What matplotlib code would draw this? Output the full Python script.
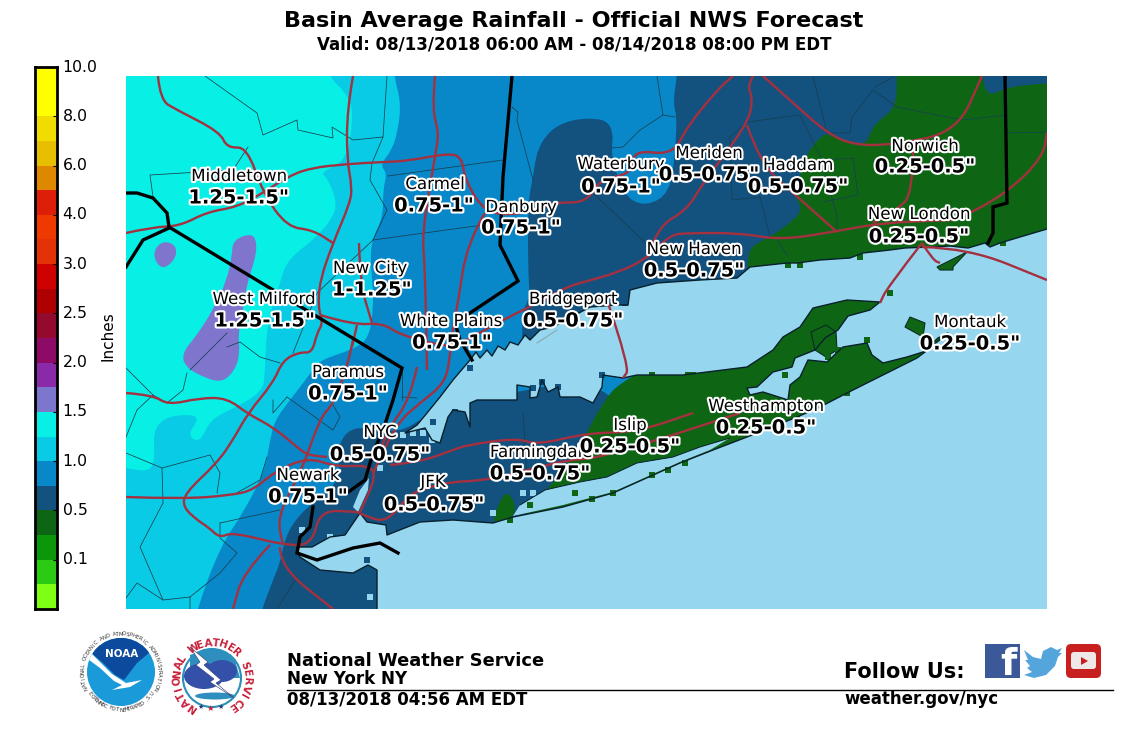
import matplotlib
matplotlib.use("Agg")
import matplotlib.pyplot as plt
import matplotlib.patheffects as pe
from matplotlib.colors import ListedColormap
from matplotlib.patches import Circle, Ellipse, FancyBboxPatch, PathPatch, Polygon, Rectangle
from matplotlib.path import Path
from matplotlib.transforms import ScaledTranslation
import numpy as np

color_water = "#96D7EF"
color_cyan = "#08EFE6"
color_light = "#09CBE6"
color_medium = "#0888C8"
color_dark = "#13517F"
color_green = "#0E6614"
color_purple = "#7F75CC"
color_road = "#A5303F"
color_county = "#17404F"

bar_colors = ["#7FFF14", "#2CC915", "#0C960A", "#0E6614", "#13517F", "#0888C8", "#0ACBE6", "#08EFE6",
	"#7C76CC", "#8A2AA8", "#8D0A67", "#930A2E", "#AE0000", "#CF0000", "#E33206", "#EE3A00", "#DD1F0A",
	"#DE8700", "#E8BE00", "#F0DC00", "#FFFF00", "#FFFF00"]
bar_ticks = [2, 4, 6, 8, 10, 12, 14, 16, 18, 20, 22]
bar_labels = ["0.1", "0.5", "1.0", "1.5", "2.0", "2.5", "3.0", "4.0", "6.0", "8.0", "10.0"]

cities = ["Middletown", "Carmel", "Danbury", "Waterbury", "Meriden", "Haddam", "Norwich", "New London",
	"New City", "New Haven", "West Milford", "Bridgeport", "White Plains", "Montauk", "Paramus",
	"Westhampton", "Islip", "NYC", "Farmingdale", "Newark", "JFK"]
city_x = [239, 435, 521, 621, 709, 798, 925, 919, 370, 694, 264, 573, 451, 970, 348, 766, 630, 380, 541, 308, 433]
city_y = [176, 184, 207, 164, 153, 165, 146, 214, 268, 249, 299, 299, 321, 322, 372, 406, 425, 432, 452, 475, 482]
amounts = ['1.25-1.5"', '0.75-1"', '0.75-1"', '0.75-1"', '0.5-0.75"', '0.5-0.75"', '0.25-0.5"', '0.25-0.5"',
	'1-1.25"', '0.5-0.75"', '1.25-1.5"', '0.5-0.75"', '0.75-1"', '0.25-0.5"', '0.75-1"',
	'0.25-0.5"', '0.25-0.5"', '0.5-0.75"', '0.5-0.75"', '0.75-1"', '0.5-0.75"']
amount_x = [239, 434, 521, 621, 709, 798, 925, 919, 372, 694, 265, 573, 452, 970, 348, 766, 630, 380, 540, 308, 434]
amount_y = [198, 206, 228, 187, 175, 187, 167, 237, 290, 271, 321, 321, 343, 344, 394, 428, 447, 455, 474, 497, 505]

# points past the map edge get clipped, they only carry the outline round the corners
area_light = [(328,60),(328,76),(350,97),(353,120),(347,160),(320,173),(327,177),(337,202),(333,217),(317,237),(287,260),
	(280,283),(267,323),(265,370),(263,392),(230,410),(210,420),(200,443),(187,435),(200,418),(187,414),(163,418),
	(153,433),(155,457),(150,472),(126,468),(100,465),(100,640),(101,640),(1100,640),(1100,639),(1100,50),(1099,50)]
area_medium = [(394,60),(394,76),(401,103),(398,130),(392,150),(380,165),(387,173),(383,190),(383,217),(373,237),(370,257),
	(373,287),(373,310),(370,333),(360,347),(320,360),(313,370),(290,400),(275,420),(270,440),(265,470),(245,510),
	(220,547),(197,609),(190,640),(1100,640),(1100,639),(1100,50),(1099,50)]
area_dark_north = [(677,60),(677,76),(673,103),(677,117),(675,153),(670,193),(645,207),(623,195),(612,157),(612,147),(613,133),
	(608,122),(595,118),(570,120),(550,130),(537,150),(533,177),(528,203),(528,270),(530,297),(523,310),(522,333),(522,380),
	(1100,320),(1100,50),(1099,50)]
area_dark_south = [(258,625),(262,609),(273,580),(280,563),(283,547),(290,527),(307,507),(333,487),(340,473),(337,450),(347,430),
	(367,427),(400,433),(427,415),(470,400),(640,370),(660,640)]
area_green_north = [(897,60),(897,76),(896,107),(880,120),(872,128),(867,143),(853,145),(828,133),(820,137),(807,153),(800,177),
	(793,193),(803,210),(790,223),(773,235),(750,247),(748,260),(745,300),(1100,320),(1100,81),(1047,83),(1007,87),(988,97),(982,76),(980,60)]
area_green_island = [(622,378),(600,407),(587,433),(570,460),(550,487),(520,515),(520,570),(1060,570),(1060,280),(820,280)]
area_green_patch = [(507,490),(516,505),(513,518),(497,524),(493,520),(498,505)]
area_purple_west = [(153,257),(157,245),(167,241),(177,247),(175,260),(162,270)]
area_purple_east = [(233,240),(252,233),(257,243),(255,260),(247,283),(243,310),(238,333),(240,353),(235,370),(223,382),
	(207,379),(185,367),(182,353),(197,335),(213,310),(227,280),(232,255)]

coast = [(1047,229),(1020,237),(1000,243),(990,247),(985,243),(968,248),(950,246),(930,247),(905,248),(890,250),(863,253),
	(850,258),(820,260),(797,263),(787,263),(750,267),(737,278),(700,280),(657,283),(630,290),(628,305),(617,305),(590,307),
	(553,327),(540,330),(530,340),(525,335),(518,345),(510,342),(505,350),(498,346),(492,356),(487,350),(480,358),(476,352),
	(470,360),(453,380),(440,397),(427,413),(417,425),(405,433),(425,428),(432,440),(440,443),
	(448,417),(453,410),(465,412),(470,427),(470,403),(477,400),(500,400),(517,400),(517,385),(530,387),(530,398),(537,397),
	(542,380),(548,392),(558,387),(560,397),(580,397),(593,403),(602,387),
	(603,375),(623,378),(637,375),(683,375),(747,367),(773,350),(783,337),(800,327),(813,308),(847,300),
	(880,302),(870,310),(848,316),(838,330),(825,338),(815,350),(795,358),(792,367),(773,372),(757,387),(747,388),(750,395),
	(763,392),(788,400),(790,385),(800,377),(808,360),(827,362),(843,347),(867,343),(872,355),(883,363),(907,357),(923,352),
	(938,338),(948,333),(925,352),(917,358),(847,393),(820,407),(797,417),(747,437),(713,450),(680,463),(613,493),(563,507),
	(513,517),(493,523),(453,520),(420,522),(387,535),(386,525),(367,522),(360,513),(345,535),(330,537),(312,547),(297,547),
	(300,557),(320,570),(353,573),(368,565),(377,570),(377,609)]
bay_south = [(520,505),(545,490),(580,482),(607,477),(637,463),(673,457),(700,447),(730,438),(710,450),(680,462),(613,492),
	(563,505),(513,516)]
bay_upper = [(360,490),(353,507),(358,512),(368,490),(369,478)]
isle_fishers = [(937,267),(967,252),(953,267),(953,270),(940,270)]
isle_gardiners = [(905,327),(910,317),(925,323),(923,337)]
isle_shelter = [(811,332),(826,325),(836,332),(837,350),(826,357),(815,350)]
shoal_line = [(537,343),(557,330)]

block_green = [(652,375),(688,375),(693,375),(685,463),(652,475),(668,470),(613,493),(592,499),(575,493),(785,375),(867,340),
	(828,357),(838,350),(797,415),(847,393),(888,368),(873,375),(788,265),(800,265),(860,257),(890,293),(920,230),(1003,243),
	(510,520),(530,505)]
block_dark = [(602,375),(558,387),(542,382),(533,388),(433,422),(455,412),(470,368),(367,560),(625,303)]
block_water = [(403,435),(413,433),(423,433),(432,440),(380,468),(302,530),(330,537),(328,542),(370,597),
	(523,493),(533,493),(493,513)]

roads = [
	[(158,76),(160,100),(177,110),(220,132),(227,148),(247,147),(263,193),(287,227),(313,230),(333,243)],
	[(126,233),(153,227),(180,226),(207,212),(237,207),(263,193),(287,177),(310,168),(347,164),(383,162),(407,161),(450,153),
		(462,158),(465,180),(485,213),(520,215),(557,202),(577,203),(590,197),(600,180),(633,173),(633,150),(673,155),(687,127),
		(717,90),(733,76)],
	[(353,76),(347,110),(347,160),(352,187),(350,203),(333,243),(320,280),(318,307),(323,323),(317,333),(312,353),(300,352),
		(283,360),(273,383),(248,413),(233,440),(217,463),(185,493),(183,507),(197,520),(208,527),(220,538),(232,532),(283,545),
		(312,545),(320,510),(357,512)],
	[(435,76),(432,110),(439,132),(435,157),(422,233),(425,267),(427,370)],
	[(485,213),(467,243),(458,303),(453,327),(450,357),(445,383),(420,403),(397,423),(373,473)],
	[(320,315),(353,325),(383,323),(400,335),(450,348),(467,340),(503,320),(523,310),(543,300),(567,287),(580,283),(620,272),
		(647,258),(670,235),(687,233),(740,233),(780,240),(833,232),(880,223),(947,220),(957,220),(1007,193),(1043,157),(1047,132)],
	[(647,258),(657,227),(687,210),(703,183),(747,125),(753,100),(748,87),(753,76)],
	[(763,76),(793,103),(827,133),(853,145),(892,145),(957,132),(982,76)],
	[(747,125),(760,163),(793,193),(837,232)],
	[(913,147),(913,193),(897,210),(873,223)],
	[(922,243),(887,288),(880,303)],
	[(922,243),(933,260),(940,263)],
	[(922,247),(968,248),(1047,280)],
	[(608,303),(630,368),(623,378)],
	[(390,465),(420,462),(453,450),(467,445),(517,438),(537,445),(587,433),(637,432),(693,413)],
	[(357,512),(367,517),(387,522),(407,497),(420,490),(448,482),(490,480),(547,465),(570,460),(597,458),(667,437),(740,413)],
	[(126,497),(183,499),(233,495),(253,490),(273,473),(307,457),(337,467),(367,465),(377,475),(360,512)],
	[(126,393),(153,395),(168,405),(200,398),(227,398),(248,414),(273,427),(297,447),(307,455),(327,457)],
	[(307,455),(320,417),(333,405),(347,367),(353,340)],
	[(357,325),(352,347)],
	[(280,547),(280,567),(333,609)],
	[(270,545),(243,573),(233,609)],
	[(307,455),(300,473),(277,517),(283,545)],
	[(359,243),(360,283),(372,323)],
	[(417,367),(410,400),(387,430),(377,463)],
]
state_lines = [
	[(126,193),(137,193),(153,198),(167,213),(169,227),(402,368),(393,400),(383,430),(373,453),(365,480),(347,493)],
	[(313,507),(310,527),(300,537),(297,553),(317,560),(353,548),(380,543),(398,553)],
	[(126,267),(143,240),(169,228)],
	[(512,76),(503,177),(500,245),(518,281),(455,323),(460,340),(472,360)],
	[(1005,76),(1007,203),(993,207),(993,233),(988,243)],
]
county_lines = [
	[(205,76),(257,113),(263,135),(297,120),(298,130),(333,138),(332,127),(353,140),(383,137),(372,163),(370,180),(387,210),(373,240)],
	[(248,147),(233,170),(150,175),(153,197)],
	[(387,76),(383,137)],
	[(388,176),(503,160)],
	[(373,240),(483,225)],
	[(373,240),(317,293),(293,353)],
	[(227,333),(190,370)],
	[(227,347),(240,342),(260,357),(280,363)],
	[(512,107),(518,112),(517,120),(533,180)],
	[(126,368),(153,395),(167,403),(183,390),(187,373)],
	[(126,437),(137,410),(153,395)],
	[(126,453),(162,468),(210,455),(220,473),(217,493)],
	[(162,468),(163,503),(140,547),(163,600),(190,597),(190,610)],
	[(126,598),(137,583),(163,600)],
	[(220,523),(220,538),(237,553),(220,573),(190,597)],
	[(220,523),(280,510)],
	[(267,457),(260,480),(233,495)],
	[(287,397),(333,430),(340,417),(333,405)],
	[(273,400),(273,413),(287,397)],
	[(402,370),(402,400)],
	[(402,397),(417,398)],
	[(523,413),(527,473)],
	[(297,577),(277,609)],
	[(657,76),(663,115),(675,117)],
	[(663,115),(640,130),(623,147),(612,148)],
	[(593,193),(650,247)],
	[(730,137),(747,122),(800,115),(822,160),(837,217),(837,230)],
	[(730,137),(732,200),(760,197),(770,237)],
	[(822,160),(853,158),(858,195),(823,202)],
	[(813,76),(827,133)],
	[(897,107),(873,90),(852,117),(850,133),(830,133)],
	[(897,107),(962,120),(1007,115)],
	[(1007,133),(1047,132)],
	[(875,87),(895,76)],
	[(777,240),(787,255)],
]

noaa_top = "NATIONAL OCEANIC AND ATMOSPHERIC ADMINISTRATION"
noaa_bottom = "U.S. DEPARTMENT OF COMMERCE"
nws_ring = "NATIONAL WEATHER SERVICE"

fig = plt.figure(figsize=(11.47, 7.35), dpi=100)
W, H = 1147.0, 735.0


def box(x0, y0, x1, y1):
	return [x0 / W, 1 - y1 / H, (x1 - x0) / W, (y1 - y0) / H]


# quadratic curve through the midpoints, rounds the corners off without new values
def smooth(points, closed):
	p = [np.array(q, dtype=float) for q in points]
	n = len(p)
	if closed:
		verts = [(p[-1] + p[0]) / 2]
		codes = [Path.MOVETO]
		for i in range(n):
			verts += [p[i], (p[i] + p[(i + 1) % n]) / 2]
			codes += [Path.CURVE3, Path.CURVE3]
	else:
		verts = [p[0]]
		codes = [Path.MOVETO]
		for i in range(1, n - 1):
			verts += [p[i], (p[i] + p[i + 1]) / 2]
			codes += [Path.CURVE3, Path.CURVE3]
		verts.append(p[-1])
		codes.append(Path.LINETO)
	return Path(verts, codes)


# full page layer in pixel coordinates
page = fig.add_axes([0, 0, 1, 1])
page.set_xlim(0, W)
page.set_ylim(H, 0)
page.axis("off")

ax = fig.add_axes(box(126, 76, 1047, 609))
ax.set_xlim(126, 1047)
ax.set_ylim(609, 76)
ax.axis("off")
ax.add_patch(Rectangle((126, 76), 921, 533, fc=color_cyan, ec="none", zorder=1))


def area(points, color, z):
	ax.add_patch(PathPatch(smooth(points, True), fc=color, ec="none", zorder=z))


def line(points, color, width, z):
	ax.add_patch(PathPatch(smooth(points, False), fc="none", ec=color, lw=width, zorder=z))


area(area_light, color_light, 2)
area(area_medium, color_medium, 3)
area(area_dark_north, color_dark, 4)
area(area_dark_south, color_dark, 4)
area(area_green_north, color_green, 5)
area(area_green_island, color_green, 5)
area(area_green_patch, color_green, 5)
area(area_purple_west, color_purple, 3)
area(area_purple_east, color_purple, 3)
ax.add_patch(Polygon(coast + [(1047, 609)], closed=True, fc=color_water, ec="none", zorder=6))
for piece in [bay_south, bay_upper]:
	ax.add_patch(Polygon(piece, closed=True, fc=color_water, ec="none", zorder=6))
for isle in [isle_fishers, isle_gardiners, isle_shelter]:
	ax.add_patch(Polygon(isle, closed=True, fc=color_green, ec="#0b2b20", lw=0.8, zorder=7))

for bx, by in block_green:
	ax.add_patch(Rectangle((bx - 3, by - 3), 6, 6, fc=color_green, ec="none", zorder=7))
for bx, by in block_dark:
	ax.add_patch(Rectangle((bx - 3, by - 3), 6, 6, fc=color_dark, ec="none", zorder=7))
for bx, by in block_water:
	ax.add_patch(Rectangle((bx - 3, by - 3), 6, 6, fc=color_water, ec="none", zorder=7))

ax.plot(*zip(*coast), color="#08202c", lw=1.0, zorder=9)
ax.plot(*zip(*bay_south[:8]), color="#08202c", lw=0.7, zorder=9)
ax.plot(*zip(*shoal_line), color="#8aa0a8", lw=0.7, zorder=9)
for item in county_lines:
	ax.plot(*zip(*item), color=color_county, lw=0.55, zorder=8)
for item in roads:
	line(item, color_road, 1.7, 10)
for item in state_lines:
	ax.plot(*zip(*item), color="black", lw=2.4, zorder=11, solid_joinstyle="miter")

outline = [pe.withStroke(linewidth=3, foreground="white")]
for name, nx, ny in zip(cities, city_x, city_y):
	ax.text(nx, ny, name, fontsize=12, ha="center", va="center", color="black", path_effects=outline, zorder=20)
for value, vx, vy in zip(amounts, amount_x, amount_y):
	ax.text(vx, vy, value, fontsize=14, fontweight="bold", ha="center", va="center", color="black",
		path_effects=outline, zorder=21)

# colour scale
cax = fig.add_axes(box(35, 67, 57, 609))
cmap = ListedColormap(bar_colors)
levels = np.arange(0, len(bar_colors) + 1)
cax.pcolormesh([0, 1], levels, np.arange(len(bar_colors)).reshape(-1, 1), cmap=cmap)
cax.set_xticks([])
cax.yaxis.tick_right()
cax.set_yticks(bar_ticks)
cax.set_yticklabels(bar_labels, fontsize=11.3)
cax.tick_params(axis="y", direction="in", length=3, width=0.8, pad=4)
for lab in cax.get_yticklabels():
	lab.set_transform(lab.get_transform() + ScaledTranslation(0, 1.5 / 100, fig.dpi_scale_trans))
for spine in cax.spines.values():
	spine.set_linewidth(2)
page.text(108, 336, "Inches", fontsize=11, rotation=90, ha="center", va="center")

page.text(574, 21, "Basin Average Rainfall - Official NWS Forecast", fontsize=16, fontweight="bold", ha="center", va="center")
page.text(574, 44, "Valid: 08/13/2018 06:00 AM - 08/14/2018 08:00 PM EDT", fontsize=12, fontweight="bold", ha="center", va="center")

page.text(287, 661, "National Weather Service", fontsize=12.9, fontweight="bold", va="center")
page.text(287, 679, "New York NY", fontsize=12.1, fontweight="bold", va="center")
page.text(287, 700, "08/13/2018 04:56 AM EDT", fontsize=12, fontweight="bold", va="center")
page.text(844, 672, "Follow Us:", fontsize=15, fontweight="bold", va="center")
page.text(844, 699, "weather.gov/nyc", fontsize=12, fontweight="bold", va="center")
page.plot([287, 1113], [690, 690], color="black", lw=1)


def ring_text(text, cx, cy, r, start, end, flip, **kw):
	for ch, ang in zip(text, np.linspace(start, end, len(text))):
		a = np.radians(ang)
		rot = 180 - ang if flip else -ang
		page.text(cx + r * np.sin(a), cy - r * np.cos(a), ch, rotation=rot, rotation_mode="anchor",
			ha="center", va="center", **kw)


# NOAA logo
noaa_disc = Circle((121, 672), 34, fc="#1A9AD8", ec="none")
page.add_patch(noaa_disc)
navy = Polygon([(80, 645), (80, 635), (162, 635), (162, 648), (149, 653), (137, 663), (124, 680), (115, 675), (102, 662), (90, 652)],
	fc="#0B4A9C", ec="none")
page.add_patch(navy)
navy.set_clip_path(noaa_disc)
swoosh = Polygon([(85, 657), (100, 668), (114, 681), (122, 685), (112, 690), (130, 687), (142, 680), (126, 683), (112, 674),
	(98, 660), (88, 650)], fc="white", ec="none")
page.add_patch(swoosh)
swoosh.set_clip_path(noaa_disc)
page.text(122, 654, "NOAA", fontsize=7.5, fontweight="bold", color="white", ha="center", va="center")
ring_text(noaa_top, 121, 672, 38, -115, 115, False, fontsize=3.8, color="#333333")
ring_text(noaa_bottom, 121, 672, 38, 125, 235, True, fontsize=3.8, color="#333333")

# NWS logo
page.add_patch(Circle((212, 678), 29, fc="white", ec="#2B8FB8", lw=1.5))
page.add_patch(Polygon([(190, 655), (205, 649), (222, 650), (235, 660), (240, 678), (190, 678)], fc="#2E8FBF", ec="none"))
page.add_patch(Ellipse((204, 676), 40, 26, fc="#3550A8", ec="none"))
page.add_patch(Ellipse((222, 671), 30, 22, fc="#3550A8", ec="none"))
page.add_patch(Ellipse((215, 696), 40, 7, fc="#2E8FBF", ec="none"))
page.add_patch(Polygon([(190, 647), (208, 662), (204, 665), (221, 680), (216, 683), (234, 698), (210, 682), (214, 679), (196, 665),
	(200, 662)], fc="white", ec="#25356f", lw=0.4))
ring_text(nws_ring, 212, 678, 35, -145, 145, False, fontsize=7.5, fontweight="bold", color="#C8203A")
page.text(201, 707, "\u2605", fontsize=5, color="#25356f", ha="center", va="center")
page.text(210, 708, "\u2605", fontsize=6, color="#C8203A", ha="center", va="center")
page.text(221, 707, "\u2605", fontsize=5, color="#25356f", ha="center", va="center")

# social icons
page.add_patch(Rectangle((985, 644), 35, 34, fc="#3B5998", ec="none"))
page.text(1008, 665, "f", fontsize=27, fontweight="bold", color="white", ha="center", va="center", clip_on=True)
page.add_patch(Polygon([(1024, 650), (1033, 657), (1041, 659), (1043, 651), (1051, 647), (1057, 650), (1062, 648), (1059, 653), (1062, 653),
	(1058, 657), (1055, 666), (1046, 675), (1034, 678), (1024, 675), (1032, 672), (1027, 668), (1030, 666), (1025, 660), (1028, 660)],
	fc="#55A5DD", ec="none"))
page.add_patch(FancyBboxPatch((1069, 647), 29, 28, boxstyle="round,pad=3,rounding_size=5", fc="#C8201E", ec="none"))
page.add_patch(FancyBboxPatch((1072, 653), 23, 15, boxstyle="round,pad=1,rounding_size=3", fc="#EFE8E8", ec="none"))
page.add_patch(Polygon([(1081, 657), (1081, 665), (1088, 661)], fc="#C8201E", ec="none"))

fig.savefig("out.png", dpi=100)
